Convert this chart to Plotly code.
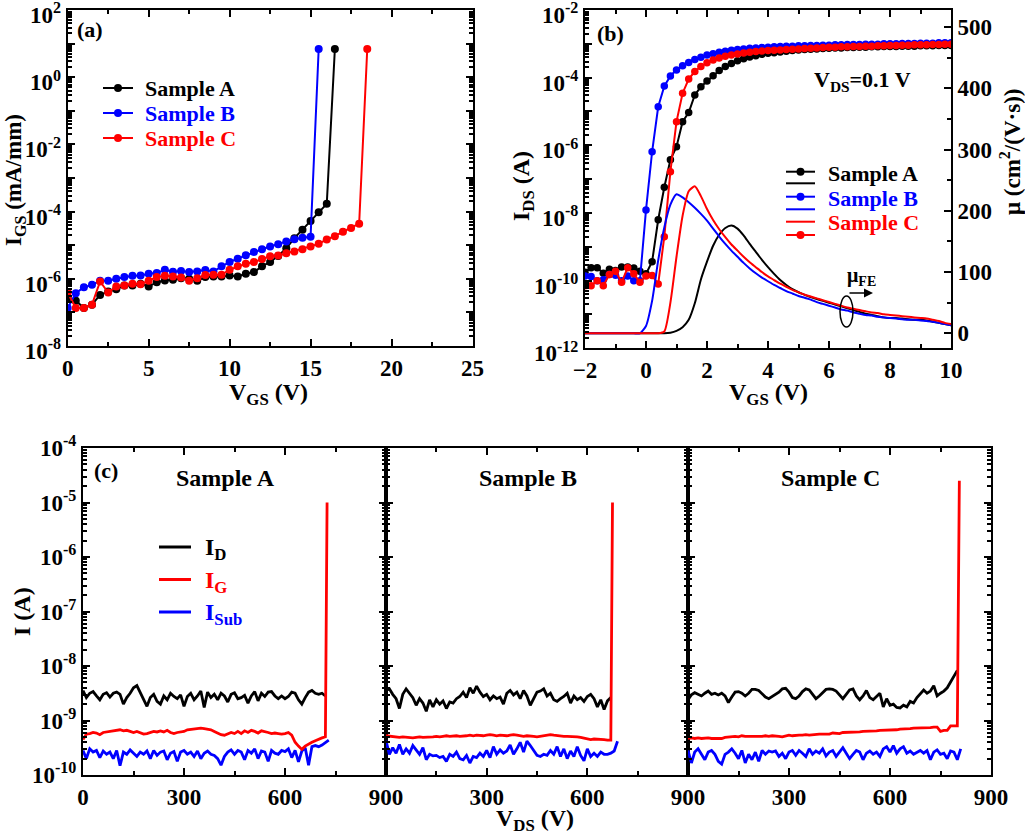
import numpy as np
import plotly.graph_objects as go

# ---------------- DATA ----------------
# Panel (a): gate leakage vs VGS (0.5 V sweep step), log10(IGS / mA/mm)
VGS_A = np.arange(0, 16.51, 0.5)
VGS_B = np.arange(0, 15.51, 0.5)
VGS_C = np.arange(0, 18.51, 0.5)
IGS_A_LOG = [-6.57, -6.65, -6.87, -6.77, -6.48, -6.38, -6.31, -6.2, -6.2, -6.15, -6.23, -6.1,
             -6.05, -6.03, -5.98, -6.0, -6.06, -5.95, -5.93, -5.93, -5.9, -5.93, -5.85, -5.8,
             -5.63, -5.5, -5.32, -5.09, -4.79, -4.54, -4.28, -4.02, -3.77, 0.84]
IGS_B_LOG = [-6.87, -6.43, -6.25, -6.18, -6.06, -6.06, -6.0, -5.95, -5.91, -5.9, -5.85, -5.83,
             -5.73, -5.79, -5.77, -5.8, -5.78, -5.74, -5.78, -5.63, -5.5, -5.4, -5.3, -5.2,
             -5.12, -5.04, -4.97, -4.89, -4.82, -4.78, -4.75, 0.84]
IGS_C_LOG = [-6.41, -6.87, -6.87, -6.77, -6.08, -6.41, -6.23, -6.2, -6.15, -6.16, -6.06, -5.95,
             -5.91, -5.93, -5.96, -6.06, -5.98, -5.89, -5.88, -5.88, -5.73, -5.63, -5.55, -5.5,
             -5.41, -5.33, -5.31, -5.24, -5.19, -5.12, -5.04, -4.96, -4.83, -4.73, -4.6, -4.49,
             -4.36, 0.84]

# Panel (b): transfer curves (0.2 V sweep step), log10(IDS / A) and mobility (cm2/Vs)
VGS_T = np.arange(-2.0, 10.001, 0.2)
IDS_A_LOG = [-9.75, -9.62, -9.62, -9.78, -9.66, -9.70, -9.60, -9.60, -9.63, -9.72, -9.80,
             -9.44, -8.20, -7.24, -6.43, -6.04, -5.30, -5.03, -4.51, -4.27, -4.10,
             -3.94, -3.79, -3.67, -3.58, -3.50, -3.44, -3.39, -3.35, -3.31, -3.28,
             -3.26, -3.24, -3.22, -3.20, -3.18, -3.17, -3.16, -3.15, -3.14, -3.13,
             -3.12, -3.12, -3.11, -3.11, -3.10, -3.10, -3.09, -3.09, -3.08, -3.08,
             -3.08, -3.07, -3.07, -3.07, -3.06, -3.06, -3.06, -3.05, -3.05, -3.05]
IDS_B_LOG = [-9.86, -9.88, -10.0, -9.97, -9.82, -9.84, -10.0, -9.86, -10.0, -10.0,
             -7.91, -6.19, -4.86, -4.25, -3.95, -3.77, -3.65, -3.55, -3.46, -3.40,
             -3.33, -3.29, -3.25, -3.22, -3.19, -3.17, -3.15, -3.13, -3.12, -3.11,
             -3.10, -3.09, -3.08, -3.07, -3.07, -3.06, -3.06, -3.05, -3.05, -3.04,
             -3.04, -3.03, -3.03, -3.02, -3.02, -3.02, -3.01, -3.01, -3.01, -3.00,
             -3.00, -3.00, -2.99, -2.99, -2.99, -2.98, -2.98, -2.98, -2.97, -2.97, -2.97]
IDS_C_LOG = [-10.15, -10.15, -10.0, -10.15, -9.82, -9.72, -10.05, -9.62, -9.80, -10.05, -9.86, -9.85, -10.10,
             -8.70, -6.78, -5.30, -4.46, -4.04, -3.82, -3.67, -3.56, -3.48, -3.42,
             -3.37, -3.33, -3.30, -3.27, -3.25, -3.23, -3.21, -3.20, -3.19, -3.18,
             -3.17, -3.16, -3.15, -3.14, -3.13, -3.12, -3.11, -3.10, -3.10, -3.09,
             -3.09, -3.08, -3.08, -3.07, -3.07, -3.06, -3.06, -3.05, -3.05, -3.04,
             -3.04, -3.03, -3.03, -3.03, -3.02, -3.02, -3.01, -3.01]
MU_A = [0] * 14 + [1, 4, 10, 22, 49, 88, 117, 143, 161, 172,
                   176, 171, 160, 146, 133, 120, 108, 97, 87, 79,
                   72, 67, 63, 59, 56, 53, 50, 47, 44, 41,
                   38, 35, 32, 30, 28, 26, 25, 25, 24, 23,
                   22, 22, 21, 19, 17, 15, 13]
MU_B = [0] * 10 + [12, 53, 119, 173, 210, 227, 222, 214, 205, 195,
                   184, 171, 158, 146, 135, 125, 115, 106, 98, 91,
                   85, 79, 74, 69, 65, 61, 58, 55, 51, 48,
                   45, 42, 39, 37, 34, 32, 30, 29, 27, 26,
                   25, 24, 23, 22, 22, 21, 20, 19, 17, 15, 13]
MU_C = [0] * 13 + [3, 50, 125, 192, 232, 240, 224, 203, 185, 170,
                   157, 145, 135, 125, 116, 108, 100, 93, 87, 81,
                   76, 71, 67, 63, 60, 57, 54, 51, 48, 45,
                   42, 40, 38, 36, 34, 33, 31, 30, 29, 28,
                   27, 26, 25, 24, 22, 20, 17, 15]

# Panel (c): off-state breakdown, 10 V sweep step, log10(I / A)
ID_A_LOG = [-8.45, -8.58, -8.50, -8.47, -8.55, -8.62, -8.52, -8.49, -8.57, -8.50,
            -8.48, -8.52, -8.70, -8.58, -8.50, -8.40, -8.36, -8.48, -8.60, -8.74,
            -8.58, -8.52, -8.65, -8.70, -8.55, -8.62, -8.50, -8.56, -8.60, -8.53,
            -8.74, -8.56, -8.50, -8.62, -8.55, -8.46, -8.76, -8.48, -8.58, -8.52,
            -8.62, -8.50, -8.55, -8.66, -8.52, -8.49, -8.60, -8.58, -8.54, -8.68,
            -8.55, -8.47, -8.64, -8.50, -8.56, -8.48, -8.47, -8.55, -8.60, -8.55,
            -8.60, -8.56, -8.48, -8.50, -8.62, -8.70, -8.58, -8.48, -8.45, -8.50,
            -8.52, -8.50, -8.55]
IG_A_LOG = [-9.35, -9.25, -9.24, -9.22, -9.23, -9.26, -9.22, -9.21, -9.20, -9.19,
            -9.18, -9.17, -9.19, -9.18, -9.20, -9.22, -9.20, -9.23, -9.25, -9.24,
            -9.22, -9.20, -9.21, -9.19, -9.21, -9.18, -9.22, -9.24, -9.22, -9.21,
            -9.20, -9.17, -9.16, -9.15, -9.15, -9.14, -9.15, -9.16, -9.17, -9.20,
            -9.23, -9.26, -9.27, -9.25, -9.22, -9.24, -9.20, -9.24, -9.19, -9.22,
            -9.18, -9.20, -9.23, -9.19, -9.20, -9.22, -9.24, -9.23, -9.24, -9.25,
            -9.24, -9.22, -9.27, -9.40, -9.47, -9.53, -9.47, -9.43, -9.40, -9.37,
            -9.34, -9.32, -9.30, -5.0]
ISUB_A_LOG = [-9.55, -9.70, -9.52, -9.58, -9.55, -9.68, -9.56, -9.62, -9.58, -9.70,
              -9.55, -9.83, -9.58, -9.62, -9.54, -9.60, -9.66, -9.58, -9.62, -9.56,
              -9.70, -9.55, -9.64, -9.58, -9.56, -9.72, -9.60, -9.57, -9.75, -9.58,
              -9.55, -9.62, -9.58, -9.66, -9.56, -9.70, -9.60, -9.56, -9.62, -9.64,
              -9.70, -9.82, -9.66, -9.58, -9.54, -9.62, -9.55, -9.58, -9.72, -9.55,
              -9.60, -9.52, -9.70, -9.56, -9.58, -9.75, -9.55, -9.60, -9.62, -9.55,
              -9.57, -9.52, -9.68, -9.55, -9.76, -9.56, -9.50, -9.82, -9.48, -9.46,
              -9.48, -9.45, -9.40, -9.36]
ID_B_LOG = [-8.45, -8.42, -8.52, -8.60, -8.78, -8.52, -8.42, -8.50, -8.58, -8.72,
            -8.60, -8.68, -8.83, -8.62, -8.75, -8.62, -8.70, -8.64, -8.78, -8.66,
            -8.68, -8.60, -8.56, -8.48, -8.58, -8.40, -8.50, -8.37, -8.48, -8.56,
            -8.52, -8.62, -8.55, -8.60, -8.57, -8.70, -8.50, -8.45, -8.53, -8.48,
            -8.60, -8.45, -8.55, -8.72, -8.60, -8.48, -8.46, -8.42, -8.55, -8.50,
            -8.62, -8.65, -8.60, -8.56, -8.50, -8.68, -8.55, -8.62, -8.58, -8.65,
            -8.56, -8.52, -8.60, -8.75, -8.62, -8.80, -8.64, -8.58]
IG_B_LOG = [-9.28, -9.29, -9.30, -9.30, -9.31, -9.30, -9.31, -9.31, -9.32, -9.31,
            -9.30, -9.31, -9.31, -9.30, -9.30, -9.29, -9.30, -9.29, -9.28, -9.29,
            -9.28, -9.28, -9.29, -9.29, -9.28, -9.27, -9.28, -9.27, -9.28, -9.28,
            -9.27, -9.26, -9.27, -9.28, -9.27, -9.28, -9.28, -9.27, -9.26, -9.27,
            -9.28, -9.29, -9.28, -9.28, -9.29, -9.30, -9.29, -9.28, -9.27, -9.26,
            -9.27, -9.28, -9.28, -9.29, -9.29, -9.29, -9.30, -9.30, -9.31, -9.32,
            -9.34, -9.35, -9.34, -9.34, -9.35, -9.35, -9.36, -9.36, -5.0]
ISUB_B_LOG = [-9.37, -9.62, -9.50, -9.60, -9.44, -9.62, -9.52, -9.60, -9.46, -9.55,
              -9.62, -9.50, -9.72, -9.62, -9.65, -9.64, -9.68, -9.66, -9.75, -9.62,
              -9.66, -9.58, -9.70, -9.72, -9.64, -9.78, -9.66, -9.68, -9.60, -9.66,
              -9.55, -9.68, -9.48, -9.62, -9.54, -9.60, -9.56, -9.45, -9.62, -9.52,
              -9.40, -9.58, -9.38, -9.46, -9.54, -9.64, -9.66, -9.62, -9.64, -9.55,
              -9.62, -9.48, -9.66, -9.52, -9.70, -9.56, -9.66, -9.48, -9.64, -9.74,
              -9.52, -9.66, -9.60, -9.66, -9.58, -9.62, -9.62, -9.60, -9.56, -9.38]
ID_C_LOG = [-8.62, -8.53, -8.49, -8.52, -8.55, -8.50, -8.46, -8.52, -8.50, -8.53,
            -8.50, -8.55, -8.67, -8.57, -8.48, -8.47, -8.50, -8.55, -8.50, -8.43,
            -8.43, -8.45, -8.52, -8.57, -8.60, -8.56, -8.53, -8.48, -8.42, -8.41,
            -8.48, -8.58, -8.60, -8.55, -8.47, -8.42, -8.44, -8.52, -8.60, -8.55,
            -8.48, -8.43, -8.42, -8.43, -8.46, -8.54, -8.60, -8.52, -8.44, -8.42,
            -8.55, -8.62, -8.55, -8.45, -8.58, -8.62, -8.55, -8.50, -8.75, -8.60,
            -8.72, -8.70, -8.76, -8.77, -8.72, -8.75, -8.65, -8.68, -8.58, -8.50,
            -8.44, -8.50, -8.46, -8.36, -8.55, -8.50, -8.46, -8.40, -8.30, -8.18, -8.08]
IG_C_LOG = [-9.33, -9.32, -9.33, -9.32, -9.33, -9.32, -9.32, -9.33, -9.33, -9.34,
            -9.33, -9.31, -9.30, -9.29, -9.29, -9.30, -9.28, -9.29, -9.29, -9.30,
            -9.30, -9.29, -9.29, -9.28, -9.29, -9.28, -9.28, -9.29, -9.30, -9.28,
            -9.27, -9.28, -9.27, -9.27, -9.27, -9.26, -9.27, -9.26, -9.25, -9.25,
            -9.25, -9.25, -9.25, -9.23, -9.24, -9.24, -9.22, -9.22, -9.21, -9.22,
            -9.21, -9.21, -9.20, -9.20, -9.20, -9.19, -9.19, -9.18, -9.18, -9.18,
            -9.17, -9.17, -9.17, -9.16, -9.16, -9.15, -9.15, -9.14, -9.14, -9.14,
            -9.13, -9.13, -9.13, -9.12, -9.12, -9.20, -9.18, -9.18, -9.10, -9.10, -9.10, -4.6]
ISUB_C_LOG = [-9.55, -9.78, -9.58, -9.52, -9.62, -9.72, -9.58, -9.55, -9.62, -9.75,
              -9.80, -9.62, -9.58, -9.52, -9.60, -9.70, -9.55, -9.78, -9.62, -9.72,
              -9.58, -9.75, -9.55, -9.62, -9.56, -9.58, -9.56, -9.66, -9.60, -9.70,
              -9.58, -9.55, -9.64, -9.55, -9.60, -9.66, -9.52, -9.62, -9.56, -9.60,
              -9.52, -9.65, -9.58, -9.55, -9.66, -9.58, -9.50, -9.60, -9.70, -9.62,
              -9.55, -9.58, -9.72, -9.60, -9.56, -9.62, -9.58, -9.66, -9.52, -9.48,
              -9.58, -9.46, -9.60, -9.52, -9.48, -9.60, -9.56, -9.62, -9.58, -9.55,
              -9.60, -9.55, -9.72, -9.58, -9.54, -9.62, -9.60, -9.70, -9.56, -9.58,
              -9.72, -9.52]
# sweep grids (10 V step) with breakdown points
VDS_ID_A = list(np.arange(0, 721, 10))
VDS_IG_A = list(np.arange(0, 721, 10)) + [725]
VDS_SUB_A = list(np.arange(0, 731, 10))
VDS_ID_B = list(np.arange(0, 671, 10))
VDS_IG_B = list(np.arange(0, 671, 10)) + [675]
VDS_SUB_B = list(np.arange(0, 691, 10))
VDS_ID_C = list(np.arange(0, 801, 10))
VDS_IG_C = list(np.arange(0, 801, 10)) + [806]
VDS_SUB_C = list(np.arange(0, 811, 10))

SAMPLES = ["Sample A", "Sample B", "Sample C"]
COLORS = ["#000000", "#0000ff", "#ff0000"]

# ---------------- LAYOUT HELPERS ----------------
W, H = 1025, 835
FONT = "Liberation Serif"
TICK = 23


def px(x):
    return x / W


def py(y):
    return 1 - y / H


def tf(size=20, color="black"):
    return dict(family=FONT, size=size, color=color, weight="bold")


def sup(e):
    return "10<sup>%d</sup>" % e


MINOR = dict(ticks="inside", ticklen=4, tickwidth=1.5, tickcolor="black")


def axis(**kw):
    d = dict(showline=True, linecolor="black", linewidth=2, mirror="ticks",
             ticks="inside", ticklen=7, tickwidth=2, tickcolor="black",
             showgrid=False, zeroline=False, tickfont=tf(TICK), automargin=False,
             ticklabeloverflow="allow")
    d.update(kw)
    return d


def log_axis(lo, hi, label_step, **kw):
    vals = [10.0 ** e for e in range(lo, hi + 1)]
    txt = [sup(e) if (e - lo) % label_step == 0 else "" for e in range(lo, hi + 1)]
    return axis(type="log", range=[lo, hi], tickmode="array", tickvals=vals, ticktext=txt,
                minor=dict(MINOR, dtick="D1"), **kw)


fig = go.Figure()

# ---------------- PANEL (a) ----------------
for xs, ys, c, n in [(VGS_A, IGS_A_LOG, COLORS[0], SAMPLES[0]),
                     (VGS_B, IGS_B_LOG, COLORS[1], SAMPLES[1]),
                     (VGS_C, IGS_C_LOG, COLORS[2], SAMPLES[2])]:
    fig.add_trace(go.Scatter(x=xs, y=10.0 ** np.array(ys), mode="lines+markers", name=n,
                             line=dict(color=c, width=2), marker=dict(color=c, size=8),
                             xaxis="x", yaxis="y", showlegend=False))

# ---------------- PANEL (b) ----------------
for ys, mu, c, n in [(IDS_A_LOG, MU_A, COLORS[0], SAMPLES[0]),
                     (IDS_B_LOG, MU_B, COLORS[1], SAMPLES[1]),
                     (IDS_C_LOG, MU_C, COLORS[2], SAMPLES[2])]:
    fig.add_trace(go.Scatter(x=VGS_T, y=10.0 ** np.array(ys), mode="lines+markers", name=n,
                             line=dict(color=c, width=2), marker=dict(color=c, size=7.5),
                             xaxis="x2", yaxis="y2", showlegend=False))
    fig.add_trace(go.Scatter(x=VGS_T, y=mu, mode="lines", name=n + " mu",
                             line=dict(color=c, width=2, shape="spline", smoothing=0.6),
                             xaxis="x2", yaxis="y3", showlegend=False))

# ---------------- PANEL (c) ----------------
c_sets = [
    ("x3", "y4", VDS_ID_A, ID_A_LOG, VDS_IG_A, IG_A_LOG, VDS_SUB_A, ISUB_A_LOG),
    ("x4", "y5", VDS_ID_B, ID_B_LOG, VDS_IG_B, IG_B_LOG, VDS_SUB_B, ISUB_B_LOG),
    ("x5", "y6", VDS_ID_C, ID_C_LOG, VDS_IG_C, IG_C_LOG, VDS_SUB_C, ISUB_C_LOG),
]
for xa, ya, xd, yd, xg, yg, xs, ysub in c_sets:
    fig.add_trace(go.Scatter(x=xs, y=10.0 ** np.array(ysub), mode="lines",
                             line=dict(color="#0000ff", width=2.8), xaxis=xa, yaxis=ya, showlegend=False))
    fig.add_trace(go.Scatter(x=xd, y=10.0 ** np.array(yd), mode="lines",
                             line=dict(color="#000000", width=2.8), xaxis=xa, yaxis=ya, showlegend=False))
    fig.add_trace(go.Scatter(x=xg, y=10.0 ** np.array(yg), mode="lines",
                             line=dict(color="#ff0000", width=2.8), xaxis=xa, yaxis=ya, showlegend=False))

# ---------------- AXES ----------------
ya_dom = [py(346), py(10)]
yb_dom = [py(348.3), py(10)]
yc_dom = [py(775), py(448)]

layout_axes = dict(
    xaxis=axis(domain=[px(67.7), px(472.5)], range=[0, 25], dtick=5, anchor="y",
               minor=dict(MINOR, dtick=2.5)),
    yaxis=log_axis(-8, 2, 2, domain=ya_dom, anchor="x", ticklabelshift=5),
    xaxis2=axis(domain=[px(585), px(951)], range=[-2, 10], dtick=2, anchor="y2",
                minor=dict(MINOR, dtick=1)),
    yaxis2=log_axis(-12, -2, 2, domain=yb_dom, anchor="x2", ticklabelshift=5),
    yaxis3=axis(overlaying="y2", side="right", anchor="x2", range=[-24.5, 528], dtick=100,
                mirror=False, minor=dict(MINOR, dtick=50)),
    xaxis3=axis(domain=[px(83), px(386)], range=[0, 900], tickvals=[0, 300, 600, 900], anchor="y4",
                minor=dict(MINOR, dtick=150)),
    xaxis4=axis(domain=[px(386), px(688)], range=[0, 900], tickvals=[300, 600, 900], anchor="y5",
                minor=dict(MINOR, dtick=150)),
    xaxis5=axis(domain=[px(688), px(991)], range=[0, 900], tickvals=[300, 600, 900], anchor="y6",
                minor=dict(MINOR, dtick=150)),
    yaxis4=log_axis(-10, -4, 1, domain=yc_dom, anchor="x3"),
    yaxis5=log_axis(-10, -4, 1, domain=yc_dom, anchor="x4", showticklabels=False),
    yaxis6=log_axis(-10, -4, 1, domain=yc_dom, anchor="x5", showticklabels=False),
)
layout_axes["yaxis2"]["mirror"] = False

# ---------------- ANNOTATIONS & LEGEND DECORATIONS ----------------
ann = []
shapes = []


def text(x, y, s, size=20, color="black", xanchor="center", angle=0):
    ann.append(dict(x=px(x), y=py(y), xref="paper", yref="paper", text=s, showarrow=False,
                    font=tf(size, color), xanchor=xanchor, yanchor="middle", textangle=angle))


def leg_line(x0, x1, y, color, width=2.5):
    shapes.append(dict(type="line", xref="paper", yref="paper", x0=px(x0), x1=px(x1),
                       y0=py(y), y1=py(y), line=dict(color=color, width=width)))


def leg_dot(xc, y, color, r=4):
    shapes.append(dict(type="circle", xref="paper", yref="paper", x0=px(xc - r), x1=px(xc + r),
                       y0=py(y + r), y1=py(y - r), fillcolor=color, line=dict(color=color, width=0)))


# panel labels
text(90, 29, "(a)", 22)
text(610, 33, "(b)", 22)
text(106, 470, "(c)", 22)

# axis titles
text(15, 180, "I<sub>GS</sub> (mA/mm)", 23, angle=-90)
text(268, 394, "V<sub>GS</sub> (V)", 24)
text(523, 186, "I<sub>DS</sub> (A)", 24, angle=-90)
text(768, 394, "V<sub>GS</sub> (V)", 24)
text(1010, 152, "μ (cm<sup>2</sup>/(V·s))", 23, angle=-90)
text(22, 612, "I (A)", 24, angle=-90)
text(535, 820, "V<sub>DS</sub> (V)", 24)

# legend (a)
for i, (n, c) in enumerate(zip(SAMPLES, COLORS)):
    yy = 88 + 25 * i
    leg_line(103, 133, yy, c, 2)
    leg_dot(118, yy, c)
    text(143, yy, n, 22, c, xanchor="left")

# legend (b)
leg_line(786, 815, 171.7, COLORS[0], 2); leg_dot(800.5, 171.7, COLORS[0])
leg_line(786, 815, 183.3, COLORS[0], 2)
leg_line(786, 815, 196.7, COLORS[1], 2); leg_dot(800.5, 196.7, COLORS[1])
leg_line(786, 815, 209.3, COLORS[1], 2)
leg_line(786, 815, 221.7, COLORS[2], 2)
leg_line(786, 815, 235.0, COLORS[2], 2); leg_dot(800.5, 235.0, COLORS[2])
text(826, 173, SAMPLES[0], 22, COLORS[0], xanchor="left")
text(826, 198, SAMPLES[1], 22, COLORS[1], xanchor="left")
text(826, 223, SAMPLES[2], 22, COLORS[2], xanchor="left")
text(862, 81, "V<sub>DS</sub>=0.1 V", 22)

# mu_FE marker: ellipse + arrow
shapes.append(dict(type="circle", xref="paper", yref="paper", x0=px(840), x1=px(853),
                   y0=py(327), y1=py(296), line=dict(color="black", width=1.5)))
ann.append(dict(x=px(873), y=py(293), xref="paper", yref="paper", ax=-25, ay=0, text="",
                showarrow=True, arrowhead=2, arrowsize=1.2, arrowwidth=1.5, arrowcolor="black"))
text(861, 276, "μ<sub>FE</sub>", 20)

# panel (c) titles and legend
text(225, 478, SAMPLES[0], 24)
text(528, 478, SAMPLES[1], 24)
text(830, 478, SAMPLES[2], 24)
for i, (lab, c) in enumerate([("I<sub>D</sub>", "#000000"), ("I<sub>G</sub>", "#ff0000"),
                              ("I<sub>Sub</sub>", "#0000ff")]):
    yy = 547 + 32.5 * i
    leg_line(159, 191, yy, c, 3)
    text(203, yy + 2, lab, 24, c, xanchor="left")

fig.update_layout(
    width=W, height=H, margin=dict(l=0, r=0, t=0, b=0, pad=0, autoexpand=False),
    paper_bgcolor="white", plot_bgcolor="white",
    showlegend=False, annotations=ann, shapes=shapes,
    **layout_axes,
)

fig.write_html("out.html")
